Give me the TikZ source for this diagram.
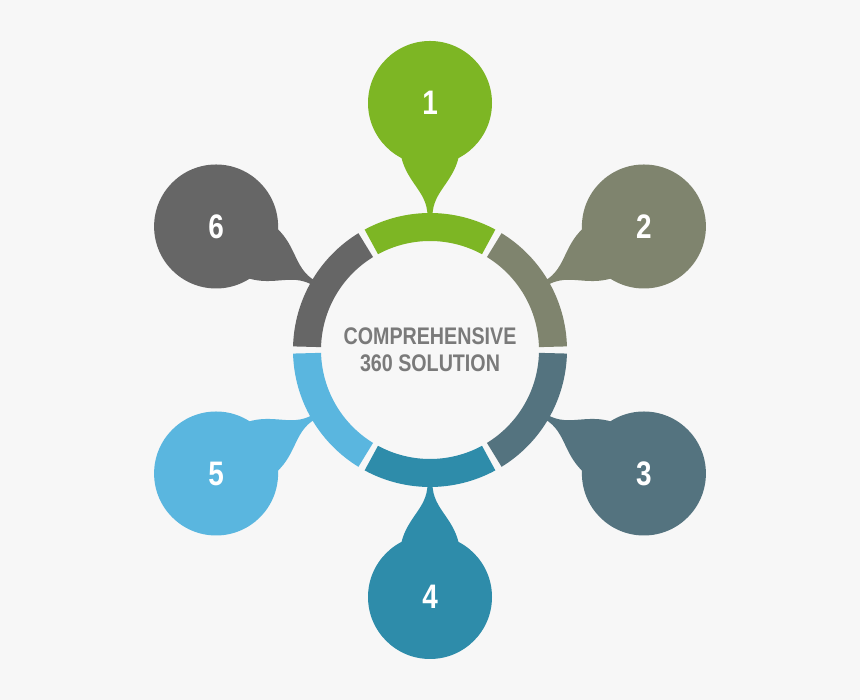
\documentclass[tikz,border=0pt]{standalone}
\usepackage{fontspec}
\setmainfont{Liberation Sans}[FakeStretch=0.82]
\definecolor{bg}{HTML}{F7F7F7}
\definecolor{cA}{HTML}{7DB624}
\definecolor{cB}{HTML}{7F846E}
\definecolor{cC}{HTML}{54737F}
\definecolor{cD}{HTML}{2E8CAA}
\definecolor{cE}{HTML}{5AB6DF}
\definecolor{cF}{HTML}{666666}
\definecolor{txt}{HTML}{7A7A7A}
\tikzset{num/.style={text=white,font=\bfseries\fontsize{34}{34}\selectfont},
  bubble/.style={circle,minimum size=124pt,inner sep=0pt}}
\begin{document}
\begin{tikzpicture}[x=1pt,y=1pt]
\fill[bg] (0,0) rectangle (860,700);
\useasboundingbox (0,0) rectangle (860,700);
\coordinate (c) at (430,350);
\foreach \ang/\col/\n in {90/cA/1,30/cB/2,-30/cC/3,-90/cD/4,-150/cE/5,150/cF/6}{
  \begin{scope}[shift={(c)},rotate=\ang]
    \fill[\col] (-28.5:137) arc[start angle=-28.5,end angle=28.5,radius=137]
      -- (28.5:109) arc[start angle=28.5,end angle=-28.5,radius=109] -- cycle;
    \fill[\col] (134,2.5) .. controls (160,2.5) and (168,26) .. (200,30) -- (200,-30)
      .. controls (168,-26) and (160,-2.5) .. (134,-2.5) -- cycle;
    \node[bubble,fill=\col] (b\n) at (247,0) {};
  \end{scope}
  \node[num] at (b\n) {\n};
}
\node[text=txt,font=\bfseries\fontsize{24}{27}\selectfont,align=center] (t) at (c) {COMPREHENSIVE\\360 SOLUTION};
\end{tikzpicture}
\end{document}
